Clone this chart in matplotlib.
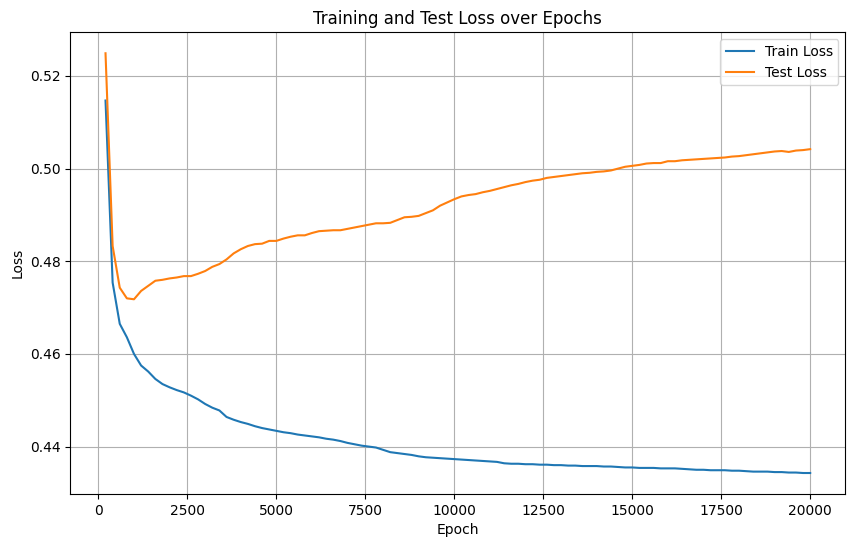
import matplotlib
matplotlib.use("Agg")
import matplotlib.pyplot as plt
import numpy as np

# epochs logged every 200 steps
epochs = np.arange(200, 20001, 200)

train_loss = [
    0.5147, 0.4754, 0.4665, 0.4636, 0.4600, 0.4575, 0.4562, 0.4546, 0.4535, 0.4528,
    0.4522, 0.4517, 0.4510, 0.4502, 0.4492, 0.4484, 0.4478, 0.4464, 0.4458, 0.4453,
    0.4449, 0.4444, 0.4440, 0.4437, 0.4434, 0.4431, 0.4429, 0.4426, 0.4424, 0.4422,
    0.4420, 0.4417, 0.4415, 0.4412, 0.4408, 0.4405, 0.4402, 0.4400, 0.4398, 0.4393,
    0.4388, 0.4386, 0.4384, 0.4382, 0.4379, 0.4377, 0.4376, 0.4375, 0.4374, 0.4373,
    0.4372, 0.4371, 0.4370, 0.4369, 0.4368, 0.4367, 0.4364, 0.4363, 0.4363, 0.4362,
    0.4362, 0.4361, 0.4361, 0.4360, 0.4360, 0.4359, 0.4359, 0.4358, 0.4358, 0.4358,
    0.4357, 0.4357, 0.4356, 0.4355, 0.4355, 0.4354, 0.4354, 0.4354, 0.4353, 0.4353,
    0.4353, 0.4352, 0.4351, 0.4350, 0.4350, 0.4349, 0.4349, 0.4349, 0.4348, 0.4348,
    0.4347, 0.4346, 0.4346, 0.4346, 0.4345, 0.4345, 0.4344, 0.4344, 0.4343, 0.4343,
]

test_loss = [
    0.5249, 0.4833, 0.4743, 0.4720, 0.4718, 0.4736, 0.4747, 0.4758, 0.4760, 0.4763,
    0.4765, 0.4768, 0.4768, 0.4773, 0.4779, 0.4788, 0.4794, 0.4804, 0.4817, 0.4826,
    0.4833, 0.4837, 0.4838, 0.4844, 0.4844, 0.4849, 0.4853, 0.4856, 0.4856, 0.4861,
    0.4865, 0.4866, 0.4867, 0.4867, 0.4870, 0.4873, 0.4876, 0.4879, 0.4882, 0.4882,
    0.4883, 0.4889, 0.4895, 0.4896, 0.4898, 0.4904, 0.4910, 0.4920, 0.4927, 0.4934,
    0.4940, 0.4943, 0.4945, 0.4949, 0.4952, 0.4956, 0.4960, 0.4964, 0.4967, 0.4971,
    0.4974, 0.4976, 0.4980, 0.4982, 0.4984, 0.4986, 0.4988, 0.4990, 0.4991, 0.4993,
    0.4994, 0.4996, 0.5000, 0.5004, 0.5006, 0.5008, 0.5011, 0.5012, 0.5012, 0.5016,
    0.5016, 0.5018, 0.5019, 0.5020, 0.5021, 0.5022, 0.5023, 0.5024, 0.5026, 0.5027,
    0.5029, 0.5031, 0.5033, 0.5035, 0.5037, 0.5038, 0.5036, 0.5039, 0.5040, 0.5042,
]

fig = plt.figure(figsize=(8.55, 5.47), dpi=100)
fig.subplots_adjust(left=0.0822, right=0.9888, bottom=0.0969, top=0.941)
ax = fig.add_subplot(111)

ax.plot(epochs, train_loss, label='Train Loss')
ax.plot(epochs, test_loss, label='Test Loss')

ax.set_title('Training and Test Loss over Epochs')
ax.set_xlabel('Epoch')
ax.set_ylabel('Loss')
ax.legend()
ax.grid(True)

fig.savefig('out.png', dpi=100)
